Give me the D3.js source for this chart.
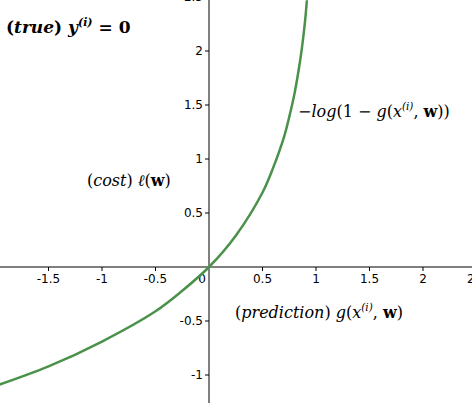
<!DOCTYPE html><html><head><meta charset="utf-8"><script src="https://cdn.jsdelivr.net/npm/d3@7"></script>
<style>body{margin:0;background:#fff}text{font-family:"DejaVu Sans",sans-serif}</style></head><body>
<svg id="c" width="472" height="403"></svg>
<script>
const xTicks=[-2,-1.5,-1,-0.5,0,0.5,1,1.5,2,2.5];
const yTicks=[-1,-0.5,0.5,1,1.5,2,2.5];
const curveX=[-2.05,-1.5,-1,-0.5,-0.25,0,0.25,0.5,0.6,0.7,0.75,0.8,0.85,0.88,0.9,0.915];
const curveY=[-1.12,-0.92,-0.69,-0.41,-0.22,0,0.29,0.69,0.92,1.2,1.39,1.61,1.9,2.12,2.3,2.47];
const svg=d3.select("#c");
const x=d3.scaleLinear().domain([0,1]).range([209,316]);
const y=d3.scaleLinear().domain([0,1]).range([267,159]);
svg.append("line").attr("x1",0).attr("x2",472).attr("y1",y(0)).attr("y2",y(0)).attr("stroke","#000");
svg.append("line").attr("x1",x(0)).attr("x2",x(0)).attr("y1",0).attr("y2",403).attr("stroke","#000");
xTicks.filter(d=>d!==0).forEach(d=>{
 svg.append("line").attr("x1",x(d)).attr("x2",x(d)).attr("y1",y(0)).attr("y2",y(0)+4).attr("stroke","#000");
 svg.append("text").attr("x",x(d)).attr("y",y(0)+16).attr("text-anchor","middle").attr("font-size",12).text(String(d).replace("-","-"));
});
svg.append("text").attr("x",x(0)-3).attr("y",y(0)+16).attr("text-anchor","end").attr("font-size",12).text("0");
yTicks.forEach(d=>{
 svg.append("line").attr("x1",x(0)-4).attr("x2",x(0)).attr("y1",y(d)).attr("y2",y(d)).attr("stroke","#000");
 svg.append("text").attr("x",x(0)-6).attr("y",y(d)+4).attr("text-anchor","end").attr("font-size",12).text(d);
});
const pts=curveX.map((v,i)=>[v,curveY[i]]);
svg.append("path").attr("d",d3.line().x(d=>x(d[0])).y(d=>y(d[1])).curve(d3.curveCatmullRom)(pts))
 .attr("fill","none").attr("stroke","#4a914a").attr("stroke-width",2.5);
function math(xp,yp,parts,size,bold){
 const t=svg.append("text").attr("x",xp).attr("y",yp).attr("font-size",size)
  .style("font-family","'DejaVu Serif',serif").attr("font-weight",bold?"bold":"normal");
 parts.forEach(p=>{const s=t.append("tspan").text(p[0]);
  if(p[1]==="i")s.attr("font-style","italic");
  if(p[1]==="sup")s.attr("font-style","italic").attr("font-size",size*0.65).attr("dy",-7);
  if(p[1]==="b")s.attr("font-weight","bold");
  if(p[2])s.attr("dy",p[2]);});
}
math(6,33,[["(","n"],["true","i"],[") ","n"],["y","i"],["(i)","sup"],[" = 0","n",7]],17,true);
math(298,117,[["−","n"],["log","i"],["(1 − ","n"],["g","i"],["(","n"],["x","i"],["(i)","sup"],[", ","n",7],["w","b"],["))","n"]],16);
math(87,186,[["(","n"],["cost","i"],[") ","n"],["ℓ","i"],["(","n"],["w","b"],[")","n"]],16);
math(235,318,[["(","n"],["prediction","i"],[") ","n"],["g","i"],["(","n"],["x","i"],["(i)","sup"],[", ","n",7],["w","b"],[")","n"]],16);
</script></body></html>
